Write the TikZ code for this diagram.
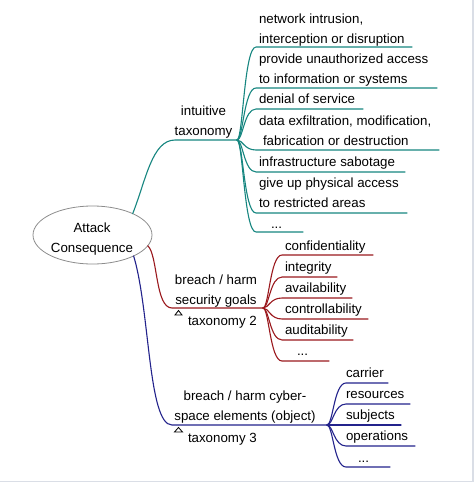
\documentclass[tikz,border=0pt]{standalone}
\usepackage{fontspec}
\setmainfont{Liberation Sans}
\usetikzlibrary{shapes.geometric}
\definecolor{cteal}{RGB}{22,134,128}
\definecolor{cred}{RGB}{155,25,30}
\definecolor{cblue}{RGB}{35,35,140}
\definecolor{cframe}{RGB}{218,222,230}
\begin{document}
\begin{tikzpicture}[x=1pt,y=-1pt,
  every node/.style={font=\fontsize{13.3}{20}\selectfont, inner sep=0pt, outer sep=0pt},
  lbl/.style={anchor=base west, align=left},
  clbl/.style={anchor=base, align=center},
  br/.style={line width=1.1pt, line cap=round},
  tri/.style={draw=black, line width=0.8pt, line join=miter}
]
\useasboundingbox (0,0) rectangle (474,482);
\fill[white] (0,0) rectangle (474,482);
\fill[cframe] (472,0) rectangle (474,482);
\fill[cframe] (0,480.5) rectangle (474,482);

% root
\node[ellipse, draw=black!45, line width=0.8pt, minimum width=119pt, minimum height=58pt] (root) at (92.5,235) {};
\node[clbl] (rootlabel) at (92,252) {Attack\\Consequence};

% hubs
\coordinate (hubT) at (237,140);
\coordinate (hubR) at (263,308);
\coordinate (hubB) at (327,425);
\coordinate (sT) at (175,140);
\coordinate (sR) at (172,308);
\coordinate (sB) at (172,425);

% main branches
\draw[br, cteal] (root.28) .. controls (146,180) and (152,140) .. (sT) -- (hubT);
\draw[br, cred] (root.-11) .. controls (158,255) and (155,308) .. (sR) -- (hubR);
\draw[br, cblue] (root.-27) .. controls (150,310) and (148,425) .. (sB) -- (hubB);

% branch labels
\node[clbl] (lT) at (203.5,135) {intuitive\\taxonomy};
\node[clbl] (lR) at (216,304) {breach / harm\\security goals};
\node[lbl] (lR2) at (188,325) {taxonomy 2};
\node[clbl] (lB) at (245,420) {breach / harm cyber-\\space elements (object)};
\node[lbl] (lB2) at (188,442) {taxonomy 3};
\draw[tri] (178.5,310.5) -- (182,315) -- (175,315) -- cycle;
\draw[tri] (178.5,427.5) -- (182.5,432) -- (174.5,432) -- cycle;

% teal children
\foreach \n/\y/\e in {1/47/412, 2/88/437, 3/109/363, 4/150/439, 5/172/405, 6/213/407, 7/232/303}{
  \coordinate (t\n) at (\e,\y);
  \draw[br, cteal] (hubT) .. controls ([xshift=6pt]hubT) and ([xshift=7pt]hubT |- t\n) .. ([xshift=19pt]hubT |- t\n) -- (t\n);
}
\node[lbl] (c1) at (259,43) {network intrusion,\\interception or disruption};
\node[lbl] (c2) at (259,83.5) {provide unauthorized access\\to information or systems};
\node[lbl] (c3) at (259,103.5) {denial of service};
\node[lbl] (c4) at (259,145.5) {data exfiltration, modification,\\\hspace*{4pt}fabrication or destruction};
\node[lbl] (c5) at (259,166.5) {infrastructure sabotage};
\node[lbl] (c6) at (259,207.5) {give up physical access\\to restricted areas};
\node[lbl] (c7) at (271,228) {...};

% red children
\foreach \n/\y/\e in {1/255/373, 2/277/337, 3/298/352, 4/319/368, 5/340/353, 6/361/329}{
  \coordinate (r\n) at (\e,\y);
  \draw[br, cred] (hubR) .. controls ([xshift=6pt]hubR) and ([xshift=7pt]hubR |- r\n) .. ([xshift=19pt]hubR |- r\n) -- (r\n);
}
\node[lbl] (d1) at (285,250) {confidentiality};
\node[lbl] (d2) at (285,271) {integrity};
\node[lbl] (d3) at (285,292) {availability};
\node[lbl] (d4) at (285,313) {controllability};
\node[lbl] (d5) at (285,334.5) {auditability};
\node[lbl] (d6) at (297,355) {...};

% blue children
\foreach \n/\y/\e in {1/383/388, 2/404/410, 4/446/415, 5/467/390}{
  \coordinate (b\n) at (\e,\y);
  \draw[br, cblue] (hubB) .. controls ([xshift=6pt]hubB) and ([xshift=7pt]hubB |- b\n) .. ([xshift=19pt]hubB |- b\n) -- (b\n);
}
\coordinate (b3) at (401,425);
\draw[br, cblue] (hubB) -- (b3);
\node[lbl] (e1) at (346,377.5) {carrier};
\node[lbl] (e2) at (346,398.5) {resources};
\node[lbl] (e3) at (346,419.5) {subjects};
\node[lbl] (e4) at (346,440) {operations};
\node[lbl] (e5) at (358,462) {...};
\end{tikzpicture}
\end{document}
